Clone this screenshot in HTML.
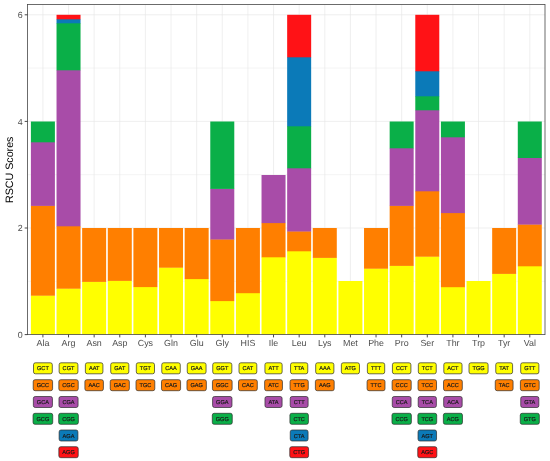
<!DOCTYPE html>
<html lang="en">
<head>
<meta charset="utf-8">
<title>RSCU Scores</title>
<style>
html,body{margin:0;padding:0;background:#fff;}
body{width:550px;height:461px;overflow:hidden;}
svg{display:block;}
svg text{font-family:"Liberation Sans",Arial,Helvetica,sans-serif;text-rendering:geometricPrecision;}
.ax{font-size:8.9px;fill:#4d4d4d;}
.lb{font-size:5.6px;fill:#1a1a1a;text-anchor:middle;stroke:#1a1a1a;stroke-width:0.16px;}
</style>
</head>
<body>
<svg width="550" height="461" viewBox="0 0 550 461">
<rect x="0" y="0" width="550" height="461" fill="#ffffff"/>
<g stroke="#e6e6e6" fill="none">
<line x1="27.5" x2="545.0" y1="281.30" y2="281.30" stroke-width="0.4"/>
<line x1="27.5" x2="545.0" y1="174.70" y2="174.70" stroke-width="0.4"/>
<line x1="27.5" x2="545.0" y1="68.10" y2="68.10" stroke-width="0.4"/>
<line x1="27.5" x2="545.0" y1="228.00" y2="228.00" stroke-width="0.65"/>
<line x1="27.5" x2="545.0" y1="121.40" y2="121.40" stroke-width="0.65"/>
<line x1="27.5" x2="545.0" y1="14.80" y2="14.80" stroke-width="0.65"/>
<line x1="42.90" x2="42.90" y1="4.5" y2="334.6" stroke-width="0.65"/>
<line x1="68.53" x2="68.53" y1="4.5" y2="334.6" stroke-width="0.65"/>
<line x1="94.15" x2="94.15" y1="4.5" y2="334.6" stroke-width="0.65"/>
<line x1="119.78" x2="119.78" y1="4.5" y2="334.6" stroke-width="0.65"/>
<line x1="145.40" x2="145.40" y1="4.5" y2="334.6" stroke-width="0.65"/>
<line x1="171.03" x2="171.03" y1="4.5" y2="334.6" stroke-width="0.65"/>
<line x1="196.66" x2="196.66" y1="4.5" y2="334.6" stroke-width="0.65"/>
<line x1="222.28" x2="222.28" y1="4.5" y2="334.6" stroke-width="0.65"/>
<line x1="247.91" x2="247.91" y1="4.5" y2="334.6" stroke-width="0.65"/>
<line x1="273.53" x2="273.53" y1="4.5" y2="334.6" stroke-width="0.65"/>
<line x1="299.16" x2="299.16" y1="4.5" y2="334.6" stroke-width="0.65"/>
<line x1="324.79" x2="324.79" y1="4.5" y2="334.6" stroke-width="0.65"/>
<line x1="350.41" x2="350.41" y1="4.5" y2="334.6" stroke-width="0.65"/>
<line x1="376.04" x2="376.04" y1="4.5" y2="334.6" stroke-width="0.65"/>
<line x1="401.66" x2="401.66" y1="4.5" y2="334.6" stroke-width="0.65"/>
<line x1="427.29" x2="427.29" y1="4.5" y2="334.6" stroke-width="0.65"/>
<line x1="452.92" x2="452.92" y1="4.5" y2="334.6" stroke-width="0.65"/>
<line x1="478.54" x2="478.54" y1="4.5" y2="334.6" stroke-width="0.65"/>
<line x1="504.17" x2="504.17" y1="4.5" y2="334.6" stroke-width="0.65"/>
<line x1="529.79" x2="529.79" y1="4.5" y2="334.6" stroke-width="0.65"/>
</g>
<g shape-rendering="auto">
<rect x="30.90" y="295.40" width="24.00" height="39.20" fill="#ffff00"/>
<rect x="30.90" y="205.60" width="24.00" height="90.10" fill="#ff7f00"/>
<rect x="30.90" y="142.00" width="24.00" height="63.90" fill="#a84ca8"/>
<rect x="30.90" y="121.50" width="24.00" height="20.80" fill="#0aaf48"/>
<rect x="56.53" y="288.40" width="24.00" height="46.20" fill="#ffff00"/>
<rect x="56.53" y="226.00" width="24.00" height="62.70" fill="#ff7f00"/>
<rect x="56.53" y="70.00" width="24.00" height="156.30" fill="#a84ca8"/>
<rect x="56.53" y="23.00" width="24.00" height="47.30" fill="#0aaf48"/>
<rect x="56.53" y="19.00" width="24.00" height="4.30" fill="#0b7ab8"/>
<rect x="56.53" y="14.80" width="24.00" height="4.50" fill="#ff1216"/>
<rect x="82.15" y="281.60" width="24.00" height="53.00" fill="#ffff00"/>
<rect x="82.15" y="228.00" width="24.00" height="53.90" fill="#ff7f00"/>
<rect x="107.78" y="280.60" width="24.00" height="54.00" fill="#ffff00"/>
<rect x="107.78" y="228.00" width="24.00" height="52.90" fill="#ff7f00"/>
<rect x="133.40" y="286.80" width="24.00" height="47.80" fill="#ffff00"/>
<rect x="133.40" y="228.00" width="24.00" height="59.10" fill="#ff7f00"/>
<rect x="159.03" y="267.40" width="24.00" height="67.20" fill="#ffff00"/>
<rect x="159.03" y="228.00" width="24.00" height="39.70" fill="#ff7f00"/>
<rect x="184.66" y="278.80" width="24.00" height="55.80" fill="#ffff00"/>
<rect x="184.66" y="228.00" width="24.00" height="51.10" fill="#ff7f00"/>
<rect x="210.28" y="300.80" width="24.00" height="33.80" fill="#ffff00"/>
<rect x="210.28" y="239.20" width="24.00" height="61.90" fill="#ff7f00"/>
<rect x="210.28" y="188.60" width="24.00" height="50.90" fill="#a84ca8"/>
<rect x="210.28" y="121.50" width="24.00" height="67.40" fill="#0aaf48"/>
<rect x="235.91" y="292.90" width="24.00" height="41.70" fill="#ffff00"/>
<rect x="235.91" y="228.00" width="24.00" height="65.20" fill="#ff7f00"/>
<rect x="261.53" y="257.00" width="24.00" height="77.60" fill="#ffff00"/>
<rect x="261.53" y="222.80" width="24.00" height="34.50" fill="#ff7f00"/>
<rect x="261.53" y="175.00" width="24.00" height="48.10" fill="#a84ca8"/>
<rect x="287.16" y="251.00" width="24.00" height="83.60" fill="#ffff00"/>
<rect x="287.16" y="231.20" width="24.00" height="20.10" fill="#ff7f00"/>
<rect x="287.16" y="168.00" width="24.00" height="63.50" fill="#a84ca8"/>
<rect x="287.16" y="126.00" width="24.00" height="42.30" fill="#0aaf48"/>
<rect x="287.16" y="57.00" width="24.00" height="69.30" fill="#0b7ab8"/>
<rect x="287.16" y="14.80" width="24.00" height="42.50" fill="#ff1216"/>
<rect x="312.79" y="257.60" width="24.00" height="77.00" fill="#ffff00"/>
<rect x="312.79" y="228.00" width="24.00" height="29.90" fill="#ff7f00"/>
<rect x="338.41" y="281.00" width="24.00" height="53.60" fill="#ffff00"/>
<rect x="364.04" y="268.40" width="24.00" height="66.20" fill="#ffff00"/>
<rect x="364.04" y="228.00" width="24.00" height="40.70" fill="#ff7f00"/>
<rect x="389.66" y="265.60" width="24.00" height="69.00" fill="#ffff00"/>
<rect x="389.66" y="205.60" width="24.00" height="60.30" fill="#ff7f00"/>
<rect x="389.66" y="148.00" width="24.00" height="57.90" fill="#a84ca8"/>
<rect x="389.66" y="121.50" width="24.00" height="26.80" fill="#0aaf48"/>
<rect x="415.29" y="256.40" width="24.00" height="78.20" fill="#ffff00"/>
<rect x="415.29" y="191.00" width="24.00" height="65.70" fill="#ff7f00"/>
<rect x="415.29" y="110.00" width="24.00" height="81.30" fill="#a84ca8"/>
<rect x="415.29" y="96.00" width="24.00" height="14.30" fill="#0aaf48"/>
<rect x="415.29" y="71.00" width="24.00" height="25.30" fill="#0b7ab8"/>
<rect x="415.29" y="14.80" width="24.00" height="56.50" fill="#ff1216"/>
<rect x="440.92" y="286.90" width="24.00" height="47.70" fill="#ffff00"/>
<rect x="440.92" y="212.80" width="24.00" height="74.40" fill="#ff7f00"/>
<rect x="440.92" y="137.00" width="24.00" height="76.10" fill="#a84ca8"/>
<rect x="440.92" y="121.50" width="24.00" height="15.80" fill="#0aaf48"/>
<rect x="466.54" y="281.00" width="24.00" height="53.60" fill="#ffff00"/>
<rect x="492.17" y="273.60" width="24.00" height="61.00" fill="#ffff00"/>
<rect x="492.17" y="228.00" width="24.00" height="45.90" fill="#ff7f00"/>
<rect x="517.79" y="266.00" width="24.00" height="68.60" fill="#ffff00"/>
<rect x="517.79" y="224.30" width="24.00" height="42.00" fill="#ff7f00"/>
<rect x="517.79" y="157.70" width="24.00" height="66.90" fill="#a84ca8"/>
<rect x="517.79" y="121.50" width="24.00" height="36.50" fill="#0aaf48"/>
</g>
<rect x="27.5" y="4.5" width="517.5" height="330.1" fill="none" stroke="#484848" stroke-width="0.8"/>
<g stroke="#333333" stroke-width="0.9">
<line x1="42.90" x2="42.90" y1="334.6" y2="337.4"/>
<line x1="68.53" x2="68.53" y1="334.6" y2="337.4"/>
<line x1="94.15" x2="94.15" y1="334.6" y2="337.4"/>
<line x1="119.78" x2="119.78" y1="334.6" y2="337.4"/>
<line x1="145.40" x2="145.40" y1="334.6" y2="337.4"/>
<line x1="171.03" x2="171.03" y1="334.6" y2="337.4"/>
<line x1="196.66" x2="196.66" y1="334.6" y2="337.4"/>
<line x1="222.28" x2="222.28" y1="334.6" y2="337.4"/>
<line x1="247.91" x2="247.91" y1="334.6" y2="337.4"/>
<line x1="273.53" x2="273.53" y1="334.6" y2="337.4"/>
<line x1="299.16" x2="299.16" y1="334.6" y2="337.4"/>
<line x1="324.79" x2="324.79" y1="334.6" y2="337.4"/>
<line x1="350.41" x2="350.41" y1="334.6" y2="337.4"/>
<line x1="376.04" x2="376.04" y1="334.6" y2="337.4"/>
<line x1="401.66" x2="401.66" y1="334.6" y2="337.4"/>
<line x1="427.29" x2="427.29" y1="334.6" y2="337.4"/>
<line x1="452.92" x2="452.92" y1="334.6" y2="337.4"/>
<line x1="478.54" x2="478.54" y1="334.6" y2="337.4"/>
<line x1="504.17" x2="504.17" y1="334.6" y2="337.4"/>
<line x1="529.79" x2="529.79" y1="334.6" y2="337.4"/>
<line x1="24.7" x2="27.5" y1="334.60" y2="334.60"/>
<line x1="24.7" x2="27.5" y1="228.00" y2="228.00"/>
<line x1="24.7" x2="27.5" y1="121.40" y2="121.40"/>
<line x1="24.7" x2="27.5" y1="14.80" y2="14.80"/>
</g>
<g class="ax" text-anchor="middle">
<text x="42.90" y="345.5">Ala</text>
<text x="68.53" y="345.5">Arg</text>
<text x="94.15" y="345.5">Asn</text>
<text x="119.78" y="345.5">Asp</text>
<text x="145.40" y="345.5">Cys</text>
<text x="171.03" y="345.5">Gln</text>
<text x="196.66" y="345.5">Glu</text>
<text x="222.28" y="345.5">Gly</text>
<text x="247.91" y="345.5">HIS</text>
<text x="273.53" y="345.5">Ile</text>
<text x="299.16" y="345.5">Leu</text>
<text x="324.79" y="345.5">Lys</text>
<text x="350.41" y="345.5">Met</text>
<text x="376.04" y="345.5">Phe</text>
<text x="401.66" y="345.5">Pro</text>
<text x="427.29" y="345.5">Ser</text>
<text x="452.92" y="345.5">Thr</text>
<text x="478.54" y="345.5">Trp</text>
<text x="504.17" y="345.5">Tyr</text>
<text x="529.79" y="345.5">Val</text>
</g>
<g class="ax" text-anchor="end">
<text x="22.6" y="337.90">0</text>
<text x="22.6" y="231.30">2</text>
<text x="22.6" y="124.70">4</text>
<text x="22.6" y="18.10">6</text>
</g>
<text transform="translate(12.9,169.8) rotate(-90)" text-anchor="middle" font-size="10.7" fill="#000">RSCU Scores</text>
<g>
<rect x="33.51" y="362.80" width="18.79" height="11.00" rx="1.9" ry="1.9" fill="#ffff00" stroke="#2b2b2b" stroke-width="0.7"/><text class="lb" x="42.90" y="370.30">GCT</text>
<rect x="33.21" y="379.70" width="19.38" height="11.00" rx="1.9" ry="1.9" fill="#ff7f00" stroke="#2b2b2b" stroke-width="0.7"/><text class="lb" x="42.90" y="387.20">GCC</text>
<rect x="33.36" y="396.50" width="19.09" height="11.00" rx="1.9" ry="1.9" fill="#a84ca8" stroke="#2b2b2b" stroke-width="0.7"/><text class="lb" x="42.90" y="404.00">GCA</text>
<rect x="33.06" y="413.30" width="19.67" height="11.00" rx="1.9" ry="1.9" fill="#0aaf48" stroke="#2b2b2b" stroke-width="0.7"/><text class="lb" x="42.90" y="420.80">GCG</text>
<rect x="59.13" y="362.80" width="18.79" height="11.00" rx="1.9" ry="1.9" fill="#ffff00" stroke="#2b2b2b" stroke-width="0.7"/><text class="lb" x="68.53" y="370.30">CGT</text>
<rect x="58.84" y="379.70" width="19.38" height="11.00" rx="1.9" ry="1.9" fill="#ff7f00" stroke="#2b2b2b" stroke-width="0.7"/><text class="lb" x="68.53" y="387.20">CGC</text>
<rect x="58.98" y="396.50" width="19.09" height="11.00" rx="1.9" ry="1.9" fill="#a84ca8" stroke="#2b2b2b" stroke-width="0.7"/><text class="lb" x="68.53" y="404.00">CGA</text>
<rect x="58.69" y="413.30" width="19.67" height="11.00" rx="1.9" ry="1.9" fill="#0aaf48" stroke="#2b2b2b" stroke-width="0.7"/><text class="lb" x="68.53" y="420.80">CGG</text>
<rect x="59.13" y="430.00" width="18.79" height="11.00" rx="1.9" ry="1.9" fill="#0b7ab8" stroke="#2b2b2b" stroke-width="0.7"/><text class="lb" x="68.53" y="437.50">AGA</text>
<rect x="58.84" y="446.70" width="19.38" height="11.00" rx="1.9" ry="1.9" fill="#ff1216" stroke="#2b2b2b" stroke-width="0.7"/><text class="lb" x="68.53" y="454.20">AGG</text>
<rect x="85.39" y="362.80" width="17.52" height="11.00" rx="1.9" ry="1.9" fill="#ffff00" stroke="#2b2b2b" stroke-width="0.7"/><text class="lb" x="94.15" y="370.30">AAT</text>
<rect x="84.90" y="379.70" width="18.50" height="11.00" rx="1.9" ry="1.9" fill="#ff7f00" stroke="#2b2b2b" stroke-width="0.7"/><text class="lb" x="94.15" y="387.20">AAC</text>
<rect x="110.73" y="362.80" width="18.10" height="11.00" rx="1.9" ry="1.9" fill="#ffff00" stroke="#2b2b2b" stroke-width="0.7"/><text class="lb" x="119.78" y="370.30">GAT</text>
<rect x="110.24" y="379.70" width="19.09" height="11.00" rx="1.9" ry="1.9" fill="#ff7f00" stroke="#2b2b2b" stroke-width="0.7"/><text class="lb" x="119.78" y="387.20">GAC</text>
<rect x="136.30" y="362.80" width="18.20" height="11.00" rx="1.9" ry="1.9" fill="#ffff00" stroke="#2b2b2b" stroke-width="0.7"/><text class="lb" x="145.40" y="370.30">TGT</text>
<rect x="136.01" y="379.70" width="18.79" height="11.00" rx="1.9" ry="1.9" fill="#ff7f00" stroke="#2b2b2b" stroke-width="0.7"/><text class="lb" x="145.40" y="387.20">TGC</text>
<rect x="161.78" y="362.80" width="18.50" height="11.00" rx="1.9" ry="1.9" fill="#ffff00" stroke="#2b2b2b" stroke-width="0.7"/><text class="lb" x="171.03" y="370.30">CAA</text>
<rect x="161.49" y="379.70" width="19.09" height="11.00" rx="1.9" ry="1.9" fill="#ff7f00" stroke="#2b2b2b" stroke-width="0.7"/><text class="lb" x="171.03" y="387.20">CAG</text>
<rect x="187.26" y="362.80" width="18.79" height="11.00" rx="1.9" ry="1.9" fill="#ffff00" stroke="#2b2b2b" stroke-width="0.7"/><text class="lb" x="196.66" y="370.30">GAA</text>
<rect x="186.97" y="379.70" width="19.38" height="11.00" rx="1.9" ry="1.9" fill="#ff7f00" stroke="#2b2b2b" stroke-width="0.7"/><text class="lb" x="196.66" y="387.20">GAG</text>
<rect x="212.74" y="362.80" width="19.09" height="11.00" rx="1.9" ry="1.9" fill="#ffff00" stroke="#2b2b2b" stroke-width="0.7"/><text class="lb" x="222.28" y="370.30">GGT</text>
<rect x="212.45" y="379.70" width="19.67" height="11.00" rx="1.9" ry="1.9" fill="#ff7f00" stroke="#2b2b2b" stroke-width="0.7"/><text class="lb" x="222.28" y="387.20">GGC</text>
<rect x="212.59" y="396.50" width="19.38" height="11.00" rx="1.9" ry="1.9" fill="#a84ca8" stroke="#2b2b2b" stroke-width="0.7"/><text class="lb" x="222.28" y="404.00">GGA</text>
<rect x="212.30" y="413.30" width="19.96" height="11.00" rx="1.9" ry="1.9" fill="#0aaf48" stroke="#2b2b2b" stroke-width="0.7"/><text class="lb" x="222.28" y="420.80">GGG</text>
<rect x="239.00" y="362.80" width="17.81" height="11.00" rx="1.9" ry="1.9" fill="#ffff00" stroke="#2b2b2b" stroke-width="0.7"/><text class="lb" x="247.91" y="370.30">CAT</text>
<rect x="238.51" y="379.70" width="18.79" height="11.00" rx="1.9" ry="1.9" fill="#ff7f00" stroke="#2b2b2b" stroke-width="0.7"/><text class="lb" x="247.91" y="387.20">CAC</text>
<rect x="264.93" y="362.80" width="17.21" height="11.00" rx="1.9" ry="1.9" fill="#ffff00" stroke="#2b2b2b" stroke-width="0.7"/><text class="lb" x="273.53" y="370.30">ATT</text>
<rect x="264.63" y="379.70" width="17.81" height="11.00" rx="1.9" ry="1.9" fill="#ff7f00" stroke="#2b2b2b" stroke-width="0.7"/><text class="lb" x="273.53" y="387.20">ATC</text>
<rect x="264.97" y="396.50" width="17.12" height="11.00" rx="1.9" ry="1.9" fill="#a84ca8" stroke="#2b2b2b" stroke-width="0.7"/><text class="lb" x="273.53" y="404.00">ATA</text>
<rect x="290.55" y="362.80" width="17.21" height="11.00" rx="1.9" ry="1.9" fill="#ffff00" stroke="#2b2b2b" stroke-width="0.7"/><text class="lb" x="299.16" y="370.30">TTA</text>
<rect x="290.06" y="379.70" width="18.20" height="11.00" rx="1.9" ry="1.9" fill="#ff7f00" stroke="#2b2b2b" stroke-width="0.7"/><text class="lb" x="299.16" y="387.20">TTG</text>
<rect x="290.21" y="396.50" width="17.90" height="11.00" rx="1.9" ry="1.9" fill="#a84ca8" stroke="#2b2b2b" stroke-width="0.7"/><text class="lb" x="299.16" y="404.00">CTT</text>
<rect x="289.91" y="413.30" width="18.49" height="11.00" rx="1.9" ry="1.9" fill="#0aaf48" stroke="#2b2b2b" stroke-width="0.7"/><text class="lb" x="299.16" y="420.80">CTC</text>
<rect x="290.26" y="430.00" width="17.81" height="11.00" rx="1.9" ry="1.9" fill="#0b7ab8" stroke="#2b2b2b" stroke-width="0.7"/><text class="lb" x="299.16" y="437.50">CTA</text>
<rect x="289.77" y="446.70" width="18.79" height="11.00" rx="1.9" ry="1.9" fill="#ff1216" stroke="#2b2b2b" stroke-width="0.7"/><text class="lb" x="299.16" y="454.20">CTG</text>
<rect x="315.68" y="362.80" width="18.21" height="11.00" rx="1.9" ry="1.9" fill="#ffff00" stroke="#2b2b2b" stroke-width="0.7"/><text class="lb" x="324.79" y="370.30">AAA</text>
<rect x="315.39" y="379.70" width="18.79" height="11.00" rx="1.9" ry="1.9" fill="#ff7f00" stroke="#2b2b2b" stroke-width="0.7"/><text class="lb" x="324.79" y="387.20">AAG</text>
<rect x="341.36" y="362.80" width="18.10" height="11.00" rx="1.9" ry="1.9" fill="#ffff00" stroke="#2b2b2b" stroke-width="0.7"/><text class="lb" x="350.41" y="370.30">ATG</text>
<rect x="367.38" y="362.80" width="17.31" height="11.00" rx="1.9" ry="1.9" fill="#ffff00" stroke="#2b2b2b" stroke-width="0.7"/><text class="lb" x="376.04" y="370.30">TTT</text>
<rect x="367.09" y="379.70" width="17.90" height="11.00" rx="1.9" ry="1.9" fill="#ff7f00" stroke="#2b2b2b" stroke-width="0.7"/><text class="lb" x="376.04" y="387.20">TTC</text>
<rect x="392.42" y="362.80" width="18.49" height="11.00" rx="1.9" ry="1.9" fill="#ffff00" stroke="#2b2b2b" stroke-width="0.7"/><text class="lb" x="401.66" y="370.30">CCT</text>
<rect x="392.12" y="379.70" width="19.09" height="11.00" rx="1.9" ry="1.9" fill="#ff7f00" stroke="#2b2b2b" stroke-width="0.7"/><text class="lb" x="401.66" y="387.20">CCC</text>
<rect x="392.27" y="396.50" width="18.79" height="11.00" rx="1.9" ry="1.9" fill="#a84ca8" stroke="#2b2b2b" stroke-width="0.7"/><text class="lb" x="401.66" y="404.00">CCA</text>
<rect x="391.98" y="413.30" width="19.38" height="11.00" rx="1.9" ry="1.9" fill="#0aaf48" stroke="#2b2b2b" stroke-width="0.7"/><text class="lb" x="401.66" y="420.80">CCG</text>
<rect x="418.34" y="362.80" width="17.90" height="11.00" rx="1.9" ry="1.9" fill="#ffff00" stroke="#2b2b2b" stroke-width="0.7"/><text class="lb" x="427.29" y="370.30">TCT</text>
<rect x="418.04" y="379.70" width="18.49" height="11.00" rx="1.9" ry="1.9" fill="#ff7f00" stroke="#2b2b2b" stroke-width="0.7"/><text class="lb" x="427.29" y="387.20">TCC</text>
<rect x="418.19" y="396.50" width="18.20" height="11.00" rx="1.9" ry="1.9" fill="#a84ca8" stroke="#2b2b2b" stroke-width="0.7"/><text class="lb" x="427.29" y="404.00">TCA</text>
<rect x="417.90" y="413.30" width="18.79" height="11.00" rx="1.9" ry="1.9" fill="#0aaf48" stroke="#2b2b2b" stroke-width="0.7"/><text class="lb" x="427.29" y="420.80">TCG</text>
<rect x="418.04" y="430.00" width="18.50" height="11.00" rx="1.9" ry="1.9" fill="#0b7ab8" stroke="#2b2b2b" stroke-width="0.7"/><text class="lb" x="427.29" y="437.50">AGT</text>
<rect x="417.75" y="446.70" width="19.09" height="11.00" rx="1.9" ry="1.9" fill="#ff1216" stroke="#2b2b2b" stroke-width="0.7"/><text class="lb" x="427.29" y="454.20">AGC</text>
<rect x="443.82" y="362.80" width="18.20" height="11.00" rx="1.9" ry="1.9" fill="#ffff00" stroke="#2b2b2b" stroke-width="0.7"/><text class="lb" x="452.92" y="370.30">ACT</text>
<rect x="443.52" y="379.70" width="18.79" height="11.00" rx="1.9" ry="1.9" fill="#ff7f00" stroke="#2b2b2b" stroke-width="0.7"/><text class="lb" x="452.92" y="387.20">ACC</text>
<rect x="443.67" y="396.50" width="18.50" height="11.00" rx="1.9" ry="1.9" fill="#a84ca8" stroke="#2b2b2b" stroke-width="0.7"/><text class="lb" x="452.92" y="404.00">ACA</text>
<rect x="443.37" y="413.30" width="19.09" height="11.00" rx="1.9" ry="1.9" fill="#0aaf48" stroke="#2b2b2b" stroke-width="0.7"/><text class="lb" x="452.92" y="420.80">ACG</text>
<rect x="469.00" y="362.80" width="19.09" height="11.00" rx="1.9" ry="1.9" fill="#ffff00" stroke="#2b2b2b" stroke-width="0.7"/><text class="lb" x="478.54" y="370.30">TGG</text>
<rect x="495.76" y="362.80" width="16.82" height="11.00" rx="1.9" ry="1.9" fill="#ffff00" stroke="#2b2b2b" stroke-width="0.7"/><text class="lb" x="504.17" y="370.30">TAT</text>
<rect x="495.26" y="379.70" width="17.81" height="11.00" rx="1.9" ry="1.9" fill="#ff7f00" stroke="#2b2b2b" stroke-width="0.7"/><text class="lb" x="504.17" y="387.20">TAC</text>
<rect x="520.69" y="362.80" width="18.20" height="11.00" rx="1.9" ry="1.9" fill="#ffff00" stroke="#2b2b2b" stroke-width="0.7"/><text class="lb" x="529.79" y="370.30">GTT</text>
<rect x="520.40" y="379.70" width="18.79" height="11.00" rx="1.9" ry="1.9" fill="#ff7f00" stroke="#2b2b2b" stroke-width="0.7"/><text class="lb" x="529.79" y="387.20">GTC</text>
<rect x="520.74" y="396.50" width="18.10" height="11.00" rx="1.9" ry="1.9" fill="#a84ca8" stroke="#2b2b2b" stroke-width="0.7"/><text class="lb" x="529.79" y="404.00">GTA</text>
<rect x="520.25" y="413.30" width="19.09" height="11.00" rx="1.9" ry="1.9" fill="#0aaf48" stroke="#2b2b2b" stroke-width="0.7"/><text class="lb" x="529.79" y="420.80">GTG</text>
</g>
</svg>
</body>
</html>
